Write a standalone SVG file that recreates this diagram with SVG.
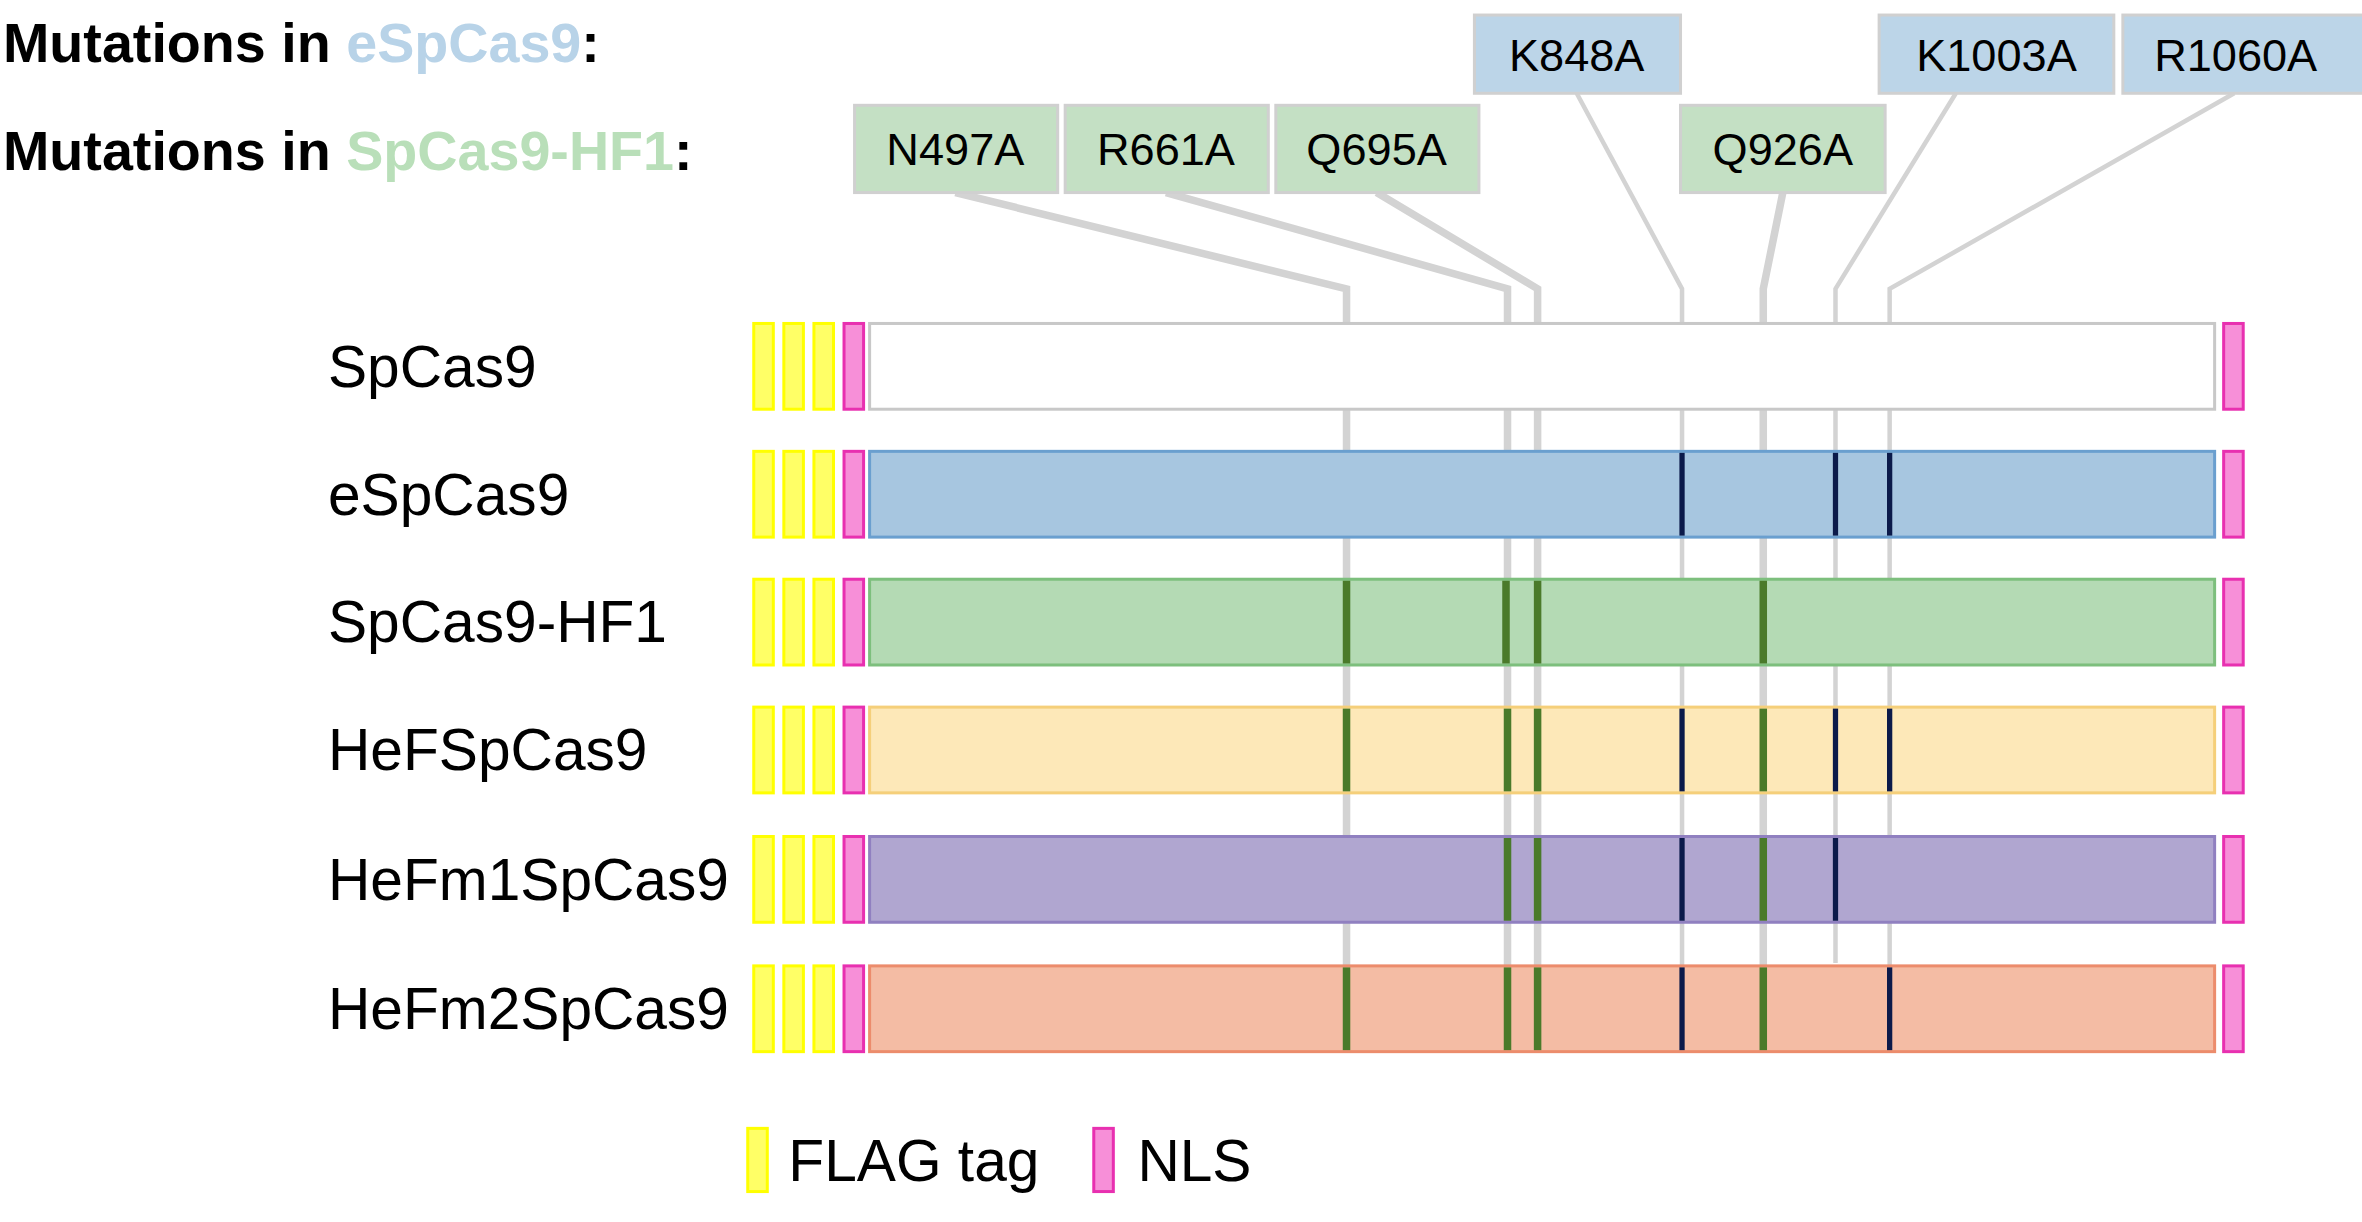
<svg xmlns="http://www.w3.org/2000/svg" width="2362" height="1222" viewBox="0 0 2362 1222">
<style>
text{font-family:"Liberation Sans",Arial,sans-serif;fill:#000}
.t{font-size:37px;font-weight:bold}
.lab{font-size:39px}
.bx{font-size:30px;text-anchor:middle}
.mb{fill:#bcd5e8;stroke:#d0d0d0;stroke-width:2}
.mg{fill:#c4e0c4;stroke:#d0d0d0;stroke-width:2}
.cg{fill:none;stroke:#d3d3d3;stroke-width:5}
.cb{fill:none;stroke:#d3d3d3;stroke-width:3}
.fl{fill:#ffff66;stroke:#ffff00;stroke-width:2}
.nl{fill:#f78fd8;stroke:#e830b0;stroke-width:2}
.kb{stroke:#0b1a4a;stroke-width:3.5}
.kg{stroke:#4a7a2a;stroke-width:5}
</style>
<rect width="2362" height="1222" fill="#fff"/>
<g transform="scale(1.5045)">
<g id="titles">
<text class="t" x="2" y="41">Mutations in <tspan fill="#b8d3e8">eSpCas9</tspan>:</text>
<text class="t" x="2" y="113">Mutations in <tspan fill="#b9dfb9">SpCas9-HF1</tspan>:</text>
</g>
<g id="connectors">
<polyline class="cg" points="635,128 895,192 895,699"/>
<polyline class="cg" points="775,128 1002,192 1002,699"/>
<polyline class="cg" points="915,128 1022,192 1022,699"/>
<polyline class="cg" points="1185,128 1172,192 1172,699"/>
<polyline class="cb" points="1048,62 1118,192 1118,699"/>
<polyline class="cb" points="1300,62 1220,192 1220,640"/>
<polyline class="cb" points="1485,62 1256,192 1256,699"/>
</g>
<g id="mut-K848A"><rect class="mb" x="980" y="10" width="137" height="52"/><text class="bx" x="1048" y="47">K848A</text></g>
<g id="mut-K1003A"><rect class="mb" x="1249" y="10" width="156" height="52"/><text class="bx" x="1327" y="47">K1003A</text></g>
<g id="mut-R1060A"><rect class="mb" x="1411" y="10" width="160" height="52"/><text class="bx" x="1486" y="47">R1060A</text></g>
<g id="mut-N497A"><rect class="mg" x="568" y="70" width="135" height="58"/><text class="bx" x="635" y="110">N497A</text></g>
<g id="mut-R661A"><rect class="mg" x="708" y="70" width="135" height="58"/><text class="bx" x="775" y="110">R661A</text></g>
<g id="mut-Q695A"><rect class="mg" x="848" y="70" width="135" height="58"/><text class="bx" x="915" y="110">Q695A</text></g>
<g id="mut-Q926A"><rect class="mg" x="1117" y="70" width="136" height="58"/><text class="bx" x="1185" y="110">Q926A</text></g>
<defs>
<g id="tags">
<rect class="fl" x="501" y="0" width="13" height="57"/>
<rect class="fl" x="521" y="0" width="13" height="57"/>
<rect class="fl" x="541" y="0" width="13" height="57"/>
<rect class="nl" x="561" y="0" width="13" height="57"/>
<rect class="nl" x="1478" y="0" width="13" height="57"/>
</g>
</defs>
<g id="row-SpCas9" transform="translate(0,215)">
<use href="#tags"/>
<rect x="578" y="0" width="894" height="57" fill="#fff" stroke="#c8c8c8" stroke-width="2"/>
<text class="lab" x="218" y="42">SpCas9</text>
</g>
<g id="row-eSpCas9" transform="translate(0,300)">
<use href="#tags"/>
<rect x="578" y="0" width="894" height="57" fill="#a7c6e0" stroke="#6a9fcf" stroke-width="2"/>
<line class="kb" x1="1118" y1="1" x2="1118" y2="56"/><line class="kb" x1="1220" y1="1" x2="1220" y2="56"/><line class="kb" x1="1256" y1="1" x2="1256" y2="56"/>
<text class="lab" x="218" y="42">eSpCas9</text>
</g>
<g id="row-SpCas9-HF1" transform="translate(0,385)">
<use href="#tags"/>
<rect x="578" y="0" width="894" height="57" fill="#b4dab4" stroke="#7dbf7d" stroke-width="2"/>
<line class="kg" x1="895" y1="1" x2="895" y2="56"/><line class="kg" x1="1001" y1="1" x2="1001" y2="56"/><line class="kg" x1="1022" y1="1" x2="1022" y2="56"/><line class="kg" x1="1172" y1="1" x2="1172" y2="56"/>
<text class="lab" x="218" y="42">SpCas9-HF1</text>
</g>
<g id="row-HeFSpCas9" transform="translate(0,470)">
<use href="#tags"/>
<rect x="578" y="0" width="894" height="57" fill="#fde8b8" stroke="#f5cf7a" stroke-width="2"/>
<line class="kg" x1="895" y1="1" x2="895" y2="56"/><line class="kg" x1="1002" y1="1" x2="1002" y2="56"/><line class="kg" x1="1022" y1="1" x2="1022" y2="56"/><line class="kg" x1="1172" y1="1" x2="1172" y2="56"/>
<line class="kb" x1="1118" y1="1" x2="1118" y2="56"/><line class="kb" x1="1220" y1="1" x2="1220" y2="56"/><line class="kb" x1="1256" y1="1" x2="1256" y2="56"/>
<text class="lab" x="218" y="42">HeFSpCas9</text>
</g>
<g id="row-HeFm1SpCas9" transform="translate(0,556)">
<use href="#tags"/>
<rect x="578" y="0" width="894" height="57" fill="#b0a6d0" stroke="#9080c0" stroke-width="2"/>
<line class="kg" x1="1002" y1="1" x2="1002" y2="56"/><line class="kg" x1="1022" y1="1" x2="1022" y2="56"/><line class="kg" x1="1172" y1="1" x2="1172" y2="56"/>
<line class="kb" x1="1118" y1="1" x2="1118" y2="56"/><line class="kb" x1="1220" y1="1" x2="1220" y2="56"/>
<text class="lab" x="218" y="42">HeFm1SpCas9</text>
</g>
<g id="row-HeFm2SpCas9" transform="translate(0,642)">
<use href="#tags"/>
<rect x="578" y="0" width="894" height="57" fill="#f4bca4" stroke="#ec8c6c" stroke-width="2"/>
<line class="kg" x1="895" y1="1" x2="895" y2="56"/><line class="kg" x1="1002" y1="1" x2="1002" y2="56"/><line class="kg" x1="1022" y1="1" x2="1022" y2="56"/><line class="kg" x1="1172" y1="1" x2="1172" y2="56"/>
<line class="kb" x1="1118" y1="1" x2="1118" y2="56"/><line class="kb" x1="1256" y1="1" x2="1256" y2="56"/>
<text class="lab" x="218" y="42">HeFm2SpCas9</text>
</g>
<g id="legend">
<rect class="fl" x="497" y="750" width="13" height="42"/>
<text class="lab" x="524" y="785">FLAG tag</text>
<rect class="nl" x="727" y="750" width="13" height="42"/>
<text class="lab" x="756" y="785">NLS</text>
</g>
</g>
</svg>
